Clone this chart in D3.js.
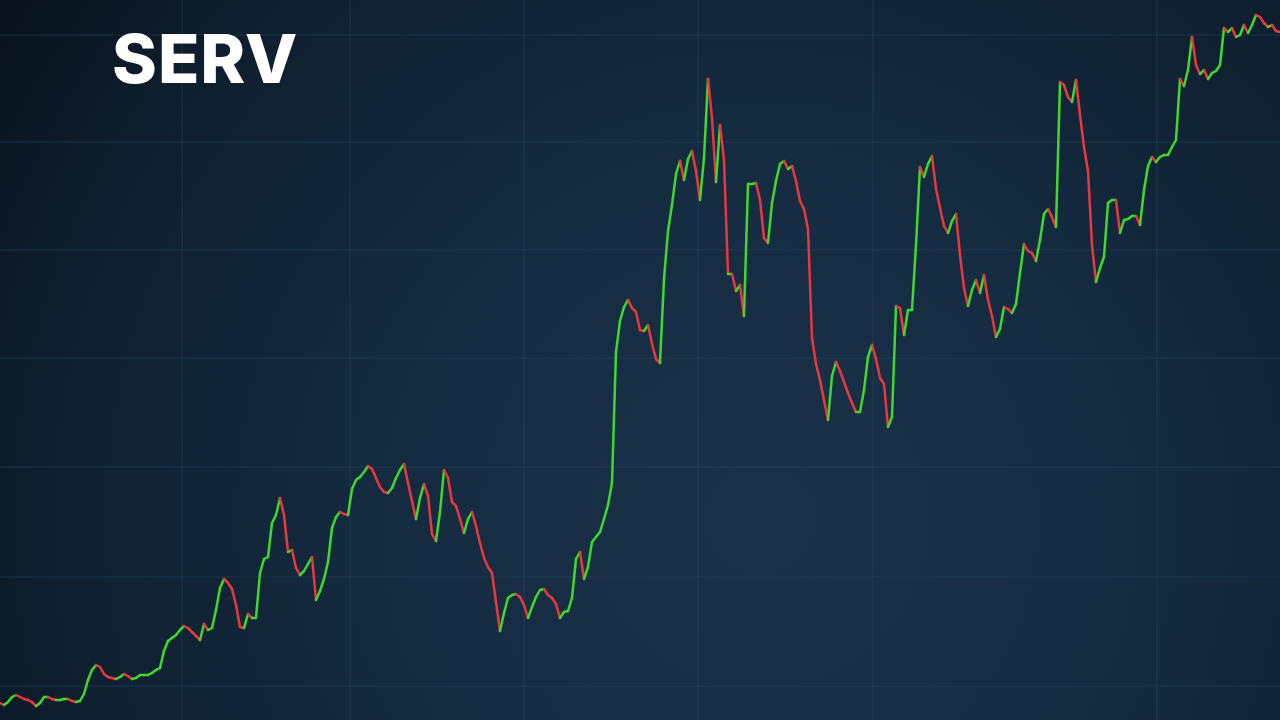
<!DOCTYPE html>
<html>
<head>
<meta charset="utf-8">
<script src="https://cdn.jsdelivr.net/npm/d3@7"></script>
<style>
html,body{margin:0;padding:0;background:#0b1722;overflow:hidden;}
svg{display:block;}
</style>
</head>
<body>
<svg id="chart" width="1280" height="720"></svg>
<script>
// ---- Data ----
const title = "SERV";
// price-like values, one per equally spaced session
const prices = [
1.7,1.5,1.8,2.3,2.5,2.3,2.1,2.0,1.8,1.4,1.7,2.3,2.3,2.1,2.0,2.0,2.1,2.1,1.9,1.8,
1.9,2.6,4.0,5.0,5.5,5.3,4.6,4.3,4.2,4.1,4.3,4.6,4.4,4.1,4.2,4.5,4.5,4.5,4.7,5.0,
5.2,6.9,7.9,8.2,8.5,9.0,9.4,9.2,8.8,8.4,8.0,9.6,9.0,9.2,11.0,13.2,14.1,13.7,13.1,11.5,
9.3,9.2,10.6,10.2,10.2,14.7,16.1,16.3,19.7,20.5,22.2,20.5,16.8,17.0,15.2,14.5,14.9,15.6,16.3,12.0,
12.9,14.1,15.8,19.2,20.3,20.8,20.6,20.5,23.1,24.0,24.3,24.8,25.4,25.1,24.2,23.3,22.8,22.7,23.2,24.2,
25.0,25.6,23.7,21.9,20.1,22.2,23.6,22.4,18.6,17.9,20.8,25.0,24.2,21.8,21.4,20.1,18.7,20.1,20.8,19.4,
17.7,16.2,15.3,14.7,11.8,8.9,10.7,12.2,12.5,12.6,12.3,11.5,10.2,11.3,12.3,13.0,13.1,12.5,12.2,11.6,
10.2,10.8,10.9,12.2,16.1,16.8,14.1,15.3,17.8,18.3,18.8,20.1,21.5,23.7,36.8,39.9,41.3,42.0,41.2,40.8,
39.0,38.9,39.5,37.6,36.1,35.7,44.1,48.9,51.5,54.6,55.9,54.0,56.1,56.9,54.9,52.0,56.2,64.1,60.2,53.8,
59.5,56.0,44.6,44.6,42.9,43.5,40.4,53.6,53.6,53.7,52.0,48.2,47.7,51.7,53.9,55.6,55.9,55.1,55.4,53.9,
51.9,51.1,49.1,38.2,35.6,34.0,32.0,30.0,34.4,35.8,34.9,33.8,32.7,31.7,30.8,30.8,33.0,36.3,37.5,36.1,
34.2,33.6,29.3,30.3,41.4,41.2,38.5,41.0,41.0,47.5,55.3,54.3,55.6,56.4,53.1,51.2,49.4,48.7,49.9,50.6,
46.5,43.2,41.4,43.0,44.0,42.7,44.5,42.0,40.4,38.3,39.1,41.3,41.1,40.7,41.6,44.7,47.6,46.9,46.7,45.9,
48.0,50.6,51.1,50.3,49.3,63.8,63.5,62.3,61.8,64.0,60.5,57.3,54.9,47.5,43.8,45.2,46.3,51.7,52.0,52.0,
48.7,50.0,50.1,50.4,50.4,49.5,53.0,55.4,56.3,55.8,56.3,56.5,56.5,57.3,58.0,64.1,63.4,65.0,68.3,65.5,
64.6,65.0,64.1,64.7,64.9,65.5,69.2,68.8,69.2,68.3,68.5,69.5,68.7,69.5,70.5,70.3,69.7,69.3,69.5,68.9,
68.8
];
// grid line positions (in data units)
const priceGrid = [3.4, 14.3, 25.3, 36.2, 47.0, 57.8, 68.5];
const sessionGrid = [45.5, 87.5, 131, 174.5, 218.25, 289.25];

// ---- Drawing ----
const W = 1280, H = 720;
const svg = d3.select("#chart");

const x = d3.scaleLinear().domain([0, prices.length - 1]).range([0, W]);
const y = d3.scaleLinear().domain([0, 72]).range([H, 0]);

const defs = svg.append("defs");
const rg = defs.append("radialGradient")
  .attr("id", "bg").attr("gradientUnits", "userSpaceOnUse")
  .attr("cx", 760).attr("cy", 520).attr("r", 900);
rg.append("stop").attr("offset", 0).attr("stop-color", "#1a324a");
rg.append("stop").attr("offset", 0.45).attr("stop-color", "#142a3f");
rg.append("stop").attr("offset", 0.8).attr("stop-color", "#0e1e2e");
rg.append("stop").attr("offset", 1).attr("stop-color", "#09141e");

const blur = defs.append("filter").attr("id", "soft")
  .attr("x", "-5%").attr("y", "-5%").attr("width", "110%").attr("height", "110%");
blur.append("feGaussianBlur").attr("stdDeviation", 0.5);

svg.append("rect").attr("width", W).attr("height", H).attr("fill", "url(#bg)");

// grid
const grid = svg.append("g").attr("stroke", "#2c4a66").attr("stroke-opacity", 0.32).attr("stroke-width", 1.5);
grid.selectAll("line.h").data(priceGrid).join("line").attr("class", "h")
  .attr("x1", 0).attr("x2", W).attr("y1", d => y(d)).attr("y2", d => y(d));
grid.selectAll("line.v").data(sessionGrid).join("line").attr("class", "v")
  .attr("y1", 0).attr("y2", H).attr("x1", d => x(d)).attr("x2", d => x(d));

// price segments coloured by direction
const segs = d3.pairs(prices.map((p, i) => ({ i, p })));
const UP = "#3fd82c", DOWN = "#e8383c";
const lineG = svg.append("g").attr("filter", "url(#soft)")
  .attr("stroke-linecap", "round").attr("stroke-width", 2.5).attr("fill", "none");
lineG.selectAll("line").data(segs).join("line")
  .attr("x1", d => x(d[0].i)).attr("y1", d => y(d[0].p))
  .attr("x2", d => x(d[1].i)).attr("y2", d => y(d[1].p))
  .attr("stroke", d => d[1].p >= d[0].p ? UP : DOWN);

// title
svg.append("text")
  .attr("x", 112).attr("y", 83)
  .attr("fill", "#ffffff")
  .attr("font-family", "Inter, 'Open Sans', sans-serif")
  .attr("font-weight", 800)
  .attr("font-size", 68)
  .attr("letter-spacing", 1)
  .text(title);
</script>
</body>
</html>
